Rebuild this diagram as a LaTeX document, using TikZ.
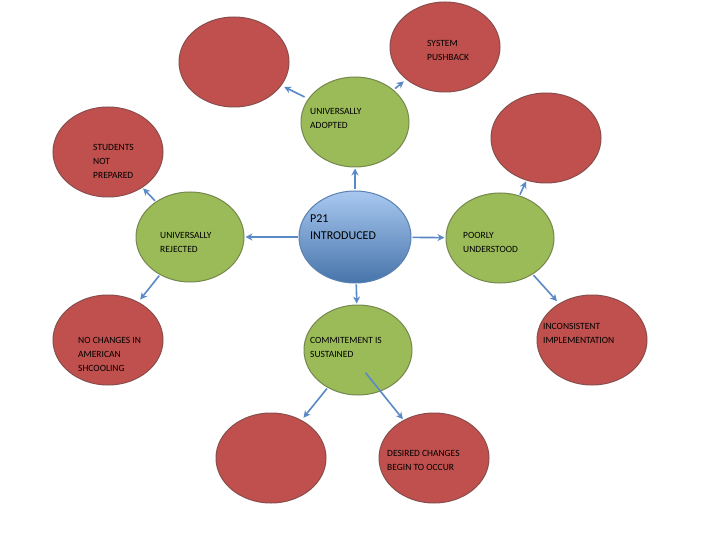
\documentclass[tikz,border=0pt]{standalone}
\usepackage{fontspec}
\setmainfont{Carlito}
\usetikzlibrary{shapes.geometric,arrows.meta}
\definecolor{redf}{HTML}{C0504D}
\definecolor{redb}{HTML}{8C3836}
\definecolor{greenf}{HTML}{9BBB59}
\definecolor{greenb}{HTML}{71893F}
\definecolor{bluef}{HTML}{4F81BD}
\definecolor{bluel}{HTML}{A8C8F0}
\definecolor{arr}{HTML}{5A8AC6}
\begin{document}
\begin{tikzpicture}[x=1pt,y=-1pt,
 bub/.style={ellipse,minimum width=110pt,minimum height=90pt,inner sep=0pt,line width=1pt},
 redb/.style={bub,fill=redf,draw=redb!70!gray},
 grn/.style={bub,minimum width=108pt,fill=greenf,draw=greenb!80!gray},
 lbl/.style={anchor=north west,align=left,font=\fontsize{9.5}{14}\selectfont,inner sep=0pt},
 con/.style={draw=arr,line width=1.6pt,-{Stealth[length=7pt,width=7pt]},shorten >=1pt,shorten <=1pt}]
\useasboundingbox (0,0) rectangle (720,540);
\fill[white] (0,0) rectangle (720,540);
% nodes
\node[bub,minimum width=112pt,minimum height=92pt,top color=bluel,bottom color=bluef!90!black,draw=bluef!80!gray] (c) at (355,237) {};
\node[grn] (ua) at (355,122) {};
\node[grn] (ur) at (190,237) {};
\node[grn] (pu) at (500,238) {};
\node[grn] (cs) at (358,350) {};
\node[redb] (r1) at (234,62) {};
\node[redb] (sp) at (445,47) {};
\node[redb] (sn) at (108,152) {};
\node[redb] (r2) at (546,138) {};
\node[redb] (nc) at (108,340) {};
\node[redb] (ii) at (592,340) {};
\node[redb] (r3) at (271,458) {};
\node[redb] (dc) at (434,458) {};
% labels
\node[lbl] (t1) at (427,40) {SYSTEM\\PUSHBACK};
\node[lbl] (t2) at (310,108) {UNIVERSALLY\\ADOPTED};
\node[lbl] (t3) at (93,144) {STUDENTS\\NOT\\PREPARED};
\node[lbl] (t4) at (160,232) {UNIVERSALLY\\REJECTED};
\node[lbl,font=\fontsize{12}{17}\selectfont] (t5) at (310,215) {P21\\INTRODUCED};
\node[lbl] (t6) at (463,232) {POORLY\\UNDERSTOOD};
\node[lbl] (t7) at (543,323) {INCONSISTENT\\IMPLEMENTATION};
\node[lbl] (t8) at (78,337) {NO CHANGES IN\\AMERICAN\\SHCOOLING};
\node[lbl] (t9) at (310,337) {COMMITEMENT IS\\SUSTAINED};
\node[lbl] (t10) at (387,450) {DESIRED CHANGES\\BEGIN TO OCCUR};
% connectors
\draw[con] (c) -- (ua);
\draw[con] (c) -- (ur);
\draw[con] (c) -- (pu);
\draw[con] (c) -- (cs);
\draw[con,shorten <=4pt,shorten >=3pt] (ua) -- (r1);
\draw[con,shorten <=2pt,shorten >=3pt] (ua) -- (sp);
\draw[con] (ur) -- (sn);
\draw[con,shorten >=3pt] (ur) -- (nc);
\draw[con] (pu) -- (r2);
\draw[con,shorten >=3pt] (pu) -- (ii);
\draw[con,shorten >=3pt] (cs) -- (r3);
\coordinate (cs2) at (365,372);
\draw[con] (cs2) -- (dc);
\end{tikzpicture}
\end{document}
